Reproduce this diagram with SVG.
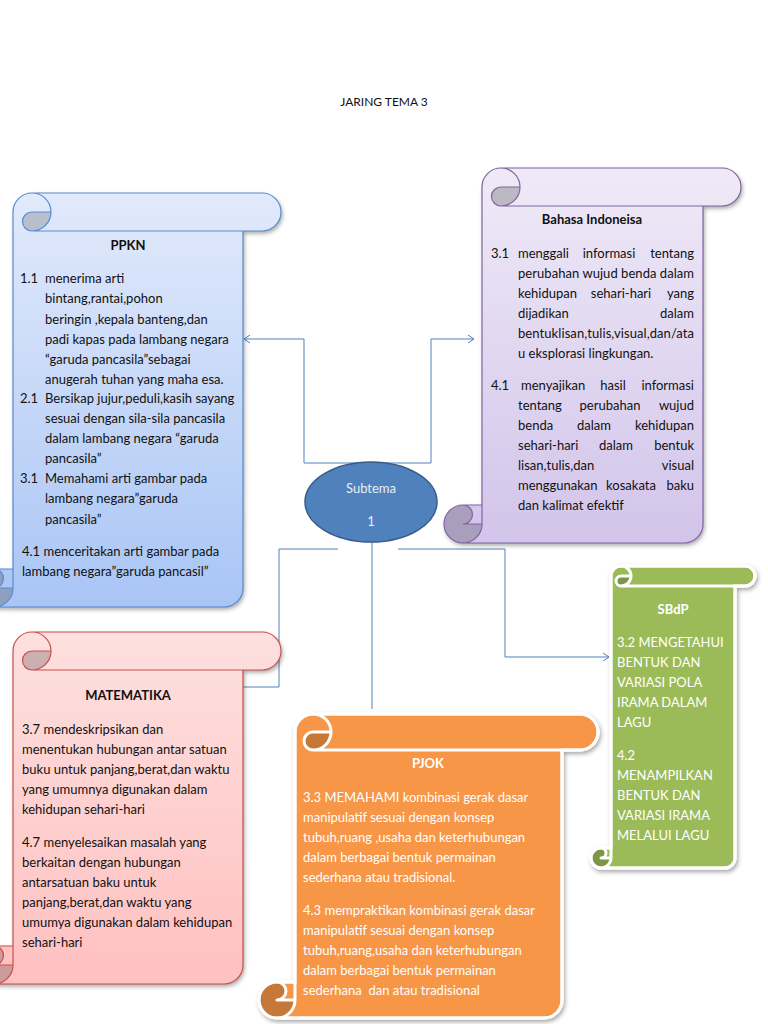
<svg xmlns="http://www.w3.org/2000/svg" width="768" height="1024" viewBox="0 0 768 1024">
<defs>
<style>
.t{font-family:Lato,"Liberation Sans",sans-serif;font-size:13px;fill:#111}
.b{font-weight:bold}
.w{fill:#ffffff}
.m{text-anchor:middle}
.e{text-anchor:end}
.dk{fill:#000;fill-opacity:0.2;stroke:none}
.cn{fill:none;stroke:#4f81bd;stroke-width:1}
</style>
<linearGradient id="gBlue" x1="0" y1="0" x2="0" y2="1"><stop offset="0" stop-color="#e2eafb"/><stop offset="1" stop-color="#a9c5f5"/></linearGradient>
<linearGradient id="gRed" x1="0" y1="0" x2="0" y2="1"><stop offset="0" stop-color="#fde0df"/><stop offset="1" stop-color="#ffc0c0"/></linearGradient>
<linearGradient id="gPur" x1="0" y1="0" x2="0" y2="1"><stop offset="0" stop-color="#efeaf7"/><stop offset="1" stop-color="#d2c4ea"/></linearGradient>
<filter id="sh" x="-10%" y="-10%" width="125%" height="125%"><feDropShadow dx="1.5" dy="2.5" stdDeviation="2" flood-color="#000" flood-opacity="0.35"/></filter>
<marker id="arr" markerWidth="10" markerHeight="10" refX="8" refY="5" orient="auto" markerUnits="userSpaceOnUse"><path d="M2,1 L8,5 L2,9" fill="none" stroke="#4f81bd" stroke-width="1"/></marker>
</defs>
<rect width="768" height="1024" fill="#ffffff"/>
<text class="t" x="384" y="106" text-anchor="middle" style="font-size:12px">JARING TEMA 3</text>

<g id="connectors">
<path class="cn" d="M371 463 L304 463 L304 339 L244 339" marker-end="url(#arr)"/>
<path class="cn" d="M371 463 L431 463 L431 339 L474 339" marker-end="url(#arr)"/>
<path class="cn" d="M338 549 L279 549 L279 687 L243 687"/>
<path class="cn" d="M372 542 L372 709"/>
<path class="cn" d="M398 549 L505 549 L505 657 L609 657" marker-end="url(#arr)"/>
</g>

<g id="ppkn">
<g filter="url(#sh)">
<path fill="url(#gBlue)" d="M -6 607 A 19 19 0 0 0 13 588 L -6 588 A 9.5 9.5 0 0 1 -6 569 L 13 569 L 13 212 A 19 19 0 0 1 32 193 L 262 193 A 19 19 0 0 1 262 231 L 243 231 L 243 588 A 19 19 0 0 1 224 607 Z M 51 212 A 19 19 0 0 1 32 231 A 9.5 9.5 0 0 1 32 212 Z"/>
<path fill="#b3c8ef" d="M 13 588 A 19 19 0 1 1 -6 569 A 9.5 9.5 0 0 1 -6 588 Z"/>
</g>
<path fill="#b7bfcc" d="M 51 212 A 19 19 0 0 1 32 231 A 9.5 9.5 0 0 1 32 212 Z"/>
<path class="dk" d="M 13 588 A 19 19 0 1 1 -6 569 A 9.5 9.5 0 0 1 -6 588 Z"/>
<path fill="none" stroke="#5a8ad2" stroke-width="1.2" d="M 13 569 L 13 212 A 19 19 0 0 1 32 193 L 262 193 A 19 19 0 0 1 262 231 L 243 231 L 243 588 A 19 19 0 0 1 224 607 L -6 607 A 19 19 0 0 1 -6 569 Z M 32 193 A 19 19 0 0 1 32 231 A 9.5 9.5 0 0 1 32 212 L 51 212 M 243 231 L 32 231 M -6 569 A 9.5 9.5 0 0 1 -6 588 L 13 588 M -6 607 A 19 19 0 0 0 13 588 L 13 569"/>
<text class="t b m" x="128" y="250">PPKN</text>
<text class="t" x="20" y="283">1.1</text><text class="t" x="45" y="283">menerima arti</text>
<text class="t" x="45" y="303">bintang,rantai,pohon</text>
<text class="t" x="45" y="324">beringin ,kepala banteng,dan</text>
<text class="t" x="45" y="344">padi kapas pada lambang negara</text>
<text class="t" x="45" y="364">“garuda pancasila”sebagai</text>
<text class="t" x="45" y="384">anugerah tuhan yang maha esa.</text>
<text class="t" x="20" y="403">2.1</text><text class="t" x="45" y="403">Bersikap jujur,peduli,kasih sayang</text>
<text class="t" x="45" y="423">sesuai dengan sila-sila pancasila</text>
<text class="t" x="45" y="443">dalam lambang negara “garuda</text>
<text class="t" x="45" y="463">pancasila”</text>
<text class="t" x="20" y="483">3.1</text><text class="t" x="45" y="483">Memahami arti gambar pada</text>
<text class="t" x="45" y="503">lambang negara”garuda</text>
<text class="t" x="45" y="524">pancasila”</text>
<text class="t" x="22" y="556">4.1 menceritakan arti gambar pada</text>
<text class="t" x="22" y="576">lambang negara”garuda pancasil”</text>
</g>

<g id="bahasa">
<g filter="url(#sh)">
<path fill="url(#gPur)" d="M 463 543 A 19 19 0 0 0 482 524 L 463 524 A 9.5 9.5 0 0 1 463 505 L 482 505 L 482 187 A 19 19 0 0 1 501 168 L 722 168 A 19 19 0 0 1 722 206 L 703 206 L 703 524 A 19 19 0 0 1 684 543 Z M 520 187 A 19 19 0 0 1 501 206 A 9.5 9.5 0 0 1 501 187 Z"/>
<path fill="#d4c6ea" d="M 482 524 A 19 19 0 1 1 463 505 A 9.5 9.5 0 0 1 463 524 Z"/>
</g>
<path class="dk" d="M 520 187 A 19 19 0 0 1 501 206 A 9.5 9.5 0 0 1 501 187 Z"/>
<path class="dk" d="M 482 524 A 19 19 0 1 1 463 505 A 9.5 9.5 0 0 1 463 524 Z"/>
<path fill="none" stroke="#8064a2" stroke-width="1.2" d="M 482 505 L 482 187 A 19 19 0 0 1 501 168 L 722 168 A 19 19 0 0 1 722 206 L 703 206 L 703 524 A 19 19 0 0 1 684 543 L 463 543 A 19 19 0 0 1 463 505 Z M 501 168 A 19 19 0 0 1 501 206 A 9.5 9.5 0 0 1 501 187 L 520 187 M 703 206 L 501 206 M 463 505 A 9.5 9.5 0 0 1 463 524 L 482 524 M 463 543 A 19 19 0 0 0 482 524 L 482 505"/>
<text class="t b m" x="592" y="224">Bahasa Indoneisa</text>
<text class="t" x="491" y="258">3.1</text><text class="t" x="518" y="258">menggali</text><text class="t m" x="609" y="258">informasi</text><text class="t e" x="694" y="258">tentang</text>
<text class="t" x="518" y="278" textLength="176" lengthAdjust="spacing">perubahan wujud benda dalam</text>
<text class="t" x="518" y="298">kehidupan</text><text class="t m" x="621" y="298">sehari-hari</text><text class="t e" x="694" y="298">yang</text>
<text class="t" x="518" y="318">dijadikan</text><text class="t e" x="694" y="318">dalam</text>
<text class="t" x="518" y="338" textLength="176" lengthAdjust="spacing">bentuklisan,tulis,visual,dan/ata</text>
<text class="t" x="518" y="358">u eksplorasi lingkungan.</text>
<text class="t" x="491" y="390">4.1</text><text class="t" x="521" y="390">menyajikan</text><text class="t m" x="613" y="390">hasil</text><text class="t e" x="694" y="390">informasi</text>
<text class="t" x="518" y="410">tentang</text><text class="t m" x="610" y="410">perubahan</text><text class="t e" x="694" y="410">wujud</text>
<text class="t" x="518" y="430">benda</text><text class="t m" x="594" y="430">dalam</text><text class="t e" x="694" y="430">kehidupan</text>
<text class="t" x="518" y="450">sehari-hari</text><text class="t m" x="616" y="450">dalam</text><text class="t e" x="694" y="450">bentuk</text>
<text class="t" x="518" y="470">lisan,tulis,dan</text><text class="t e" x="694" y="470">visual</text>
<text class="t" x="518" y="490">menggunakan</text><text class="t m" x="631" y="490">kosakata</text><text class="t e" x="694" y="490">baku</text>
<text class="t" x="518" y="510">dan kalimat efektif</text>
</g>

<g id="matematika">
<g filter="url(#sh)">
<path fill="url(#gRed)" d="M -6 984 A 19 19 0 0 0 13 965 L -6 965 A 9.5 9.5 0 0 1 -6 946 L 13 946 L 13 651 A 19 19 0 0 1 32 632 L 262 632 A 19 19 0 0 1 262 670 L 243 670 L 243 965 A 19 19 0 0 1 224 984 Z M 51 651 A 19 19 0 0 1 32 670 A 9.5 9.5 0 0 1 32 651 Z"/>
<path fill="#ffc2c2" d="M 13 965 A 19 19 0 1 1 -6 946 A 9.5 9.5 0 0 1 -6 965 Z"/>
</g>
<path class="dk" d="M 51 651 A 19 19 0 0 1 32 670 A 9.5 9.5 0 0 1 32 651 Z"/>
<path class="dk" d="M 13 965 A 19 19 0 1 1 -6 946 A 9.5 9.5 0 0 1 -6 965 Z"/>
<path fill="none" stroke="#c9504d" stroke-width="1.2" d="M 13 946 L 13 651 A 19 19 0 0 1 32 632 L 262 632 A 19 19 0 0 1 262 670 L 243 670 L 243 965 A 19 19 0 0 1 224 984 L -6 984 A 19 19 0 0 1 -6 946 Z M 32 632 A 19 19 0 0 1 32 670 A 9.5 9.5 0 0 1 32 651 L 51 651 M 243 670 L 32 670 M -6 946 A 9.5 9.5 0 0 1 -6 965 L 13 965 M -6 984 A 19 19 0 0 0 13 965 L 13 946"/>
<text class="t b m" x="128" y="700">MATEMATIKA</text>
<text class="t" x="22" y="734">3.7 mendeskripsikan dan</text>
<text class="t" x="22" y="754">menentukan hubungan antar satuan</text>
<text class="t" x="22" y="774">buku untuk panjang,berat,dan waktu</text>
<text class="t" x="22" y="794">yang umumnya digunakan dalam</text>
<text class="t" x="22" y="814">kehidupan sehari-hari</text>
<text class="t" x="22" y="847">4.7 menyelesaikan masalah yang</text>
<text class="t" x="22" y="867">berkaitan dengan hubungan</text>
<text class="t" x="22" y="887">antarsatuan baku untuk</text>
<text class="t" x="22" y="907">panjang,berat,dan waktu yang</text>
<text class="t" x="22" y="927">umumya digunakan dalam kehidupan</text>
<text class="t" x="22" y="947">sehari-hari</text>
</g>

<g id="sbdp">
<path filter="url(#sh)" fill="#9bbb59" stroke="#ffffff" stroke-width="3" d="M 611 848 L 611 576 A 10 10 0 0 1 621 566 L 745 566 A 10 10 0 0 1 745 586 L 735 586 L 735 858 A 10 10 0 0 1 725 868 L 601 868 A 10 10 0 0 1 601 848 Z"/>
<path class="dk" d="M 631 576 A 10 10 0 0 1 621 586 A 5 5 0 0 1 621 576 Z"/>
<path class="dk" d="M 611 858 A 10 10 0 1 1 601 848 A 5 5 0 0 1 601 858 Z"/>
<path fill="none" stroke="#ffffff" stroke-width="3" stroke-linejoin="round" d="M 611 848 L 611 576 A 10 10 0 0 1 621 566 L 745 566 A 10 10 0 0 1 745 586 L 735 586 L 735 858 A 10 10 0 0 1 725 868 L 601 868 A 10 10 0 0 1 601 848 Z M 621 566 A 10 10 0 0 1 621 586 A 5 5 0 0 1 621 576 L 631 576 M 735 586 L 621 586 M 601 848 A 5 5 0 0 1 601 858 L 611 858 M 601 868 A 10 10 0 0 0 611 858 L 611 848"/>
<text class="t b m w" x="673" y="614">SBdP</text>
<text class="t w" x="617" y="647">3.2 MENGETAHUI</text>
<text class="t w" x="617" y="667">BENTUK DAN</text>
<text class="t w" x="617" y="687">VARIASI POLA</text>
<text class="t w" x="617" y="707">IRAMA DALAM</text>
<text class="t w" x="617" y="727">LAGU</text>
<text class="t w" x="617" y="760">4.2</text>
<text class="t w" x="617" y="780">MENAMPILKAN</text>
<text class="t w" x="617" y="800">BENTUK DAN</text>
<text class="t w" x="617" y="820">VARIASI IRAMA</text>
<text class="t w" x="617" y="840">MELALUI LAGU</text>
</g>

<g id="pjok">
<path filter="url(#sh)" fill="#f79646" stroke="#ffffff" stroke-width="3" d="M 295 982 L 295 732 A 18 18 0 0 1 313 714 L 580 714 A 18 18 0 0 1 580 750 L 562 750 L 562 1000 A 18 18 0 0 1 544 1018 L 277 1018 A 18 18 0 0 1 277 982 Z"/>
<path class="dk" d="M 331 732 A 18 18 0 0 1 313 750 A 9 9 0 0 1 313 732 Z"/>
<path class="dk" d="M 295 1000 A 18 18 0 1 1 277 982 A 9 9 0 0 1 277 1000 Z"/>
<path fill="none" stroke="#ffffff" stroke-width="3" stroke-linejoin="round" d="M 295 982 L 295 732 A 18 18 0 0 1 313 714 L 580 714 A 18 18 0 0 1 580 750 L 562 750 L 562 1000 A 18 18 0 0 1 544 1018 L 277 1018 A 18 18 0 0 1 277 982 Z M 313 714 A 18 18 0 0 1 313 750 A 9 9 0 0 1 313 732 L 331 732 M 562 750 L 313 750 M 277 982 A 9 9 0 0 1 277 1000 L 295 1000 M 277 1018 A 18 18 0 0 0 295 1000 L 295 982"/>
<text class="t b m w" x="428" y="768">PJOK</text>
<text class="t w" x="303" y="802">3.3 MEMAHAMI kombinasi gerak dasar</text>
<text class="t w" x="303" y="822">manipulatif sesuai dengan konsep</text>
<text class="t w" x="303" y="842">tubuh,ruang ,usaha dan keterhubungan</text>
<text class="t w" x="303" y="862">dalam berbagai bentuk permainan</text>
<text class="t w" x="303" y="882">sederhana atau tradisional.</text>
<text class="t w" x="303" y="915">4.3 mempraktikan kombinasi gerak dasar</text>
<text class="t w" x="303" y="935">manipulatif sesuai dengan konsep</text>
<text class="t w" x="303" y="955">tubuh,ruang,usaha dan keterhubungan</text>
<text class="t w" x="303" y="975">dalam berbagai bentuk permainan</text>
<text class="t w" x="303" y="995" xml:space="preserve">sederhana  dan atau tradisional</text>
</g>

<g id="subtema">
<ellipse cx="371" cy="502" rx="66" ry="40" fill="#4f81bd" stroke="#385d8a" stroke-width="1.5"/>
<text class="t m" x="371" y="493" style="fill:#e8eef6">Subtema</text>
<text class="t m" x="371" y="526" style="fill:#e8eef6">1</text>
</g>
</svg>
